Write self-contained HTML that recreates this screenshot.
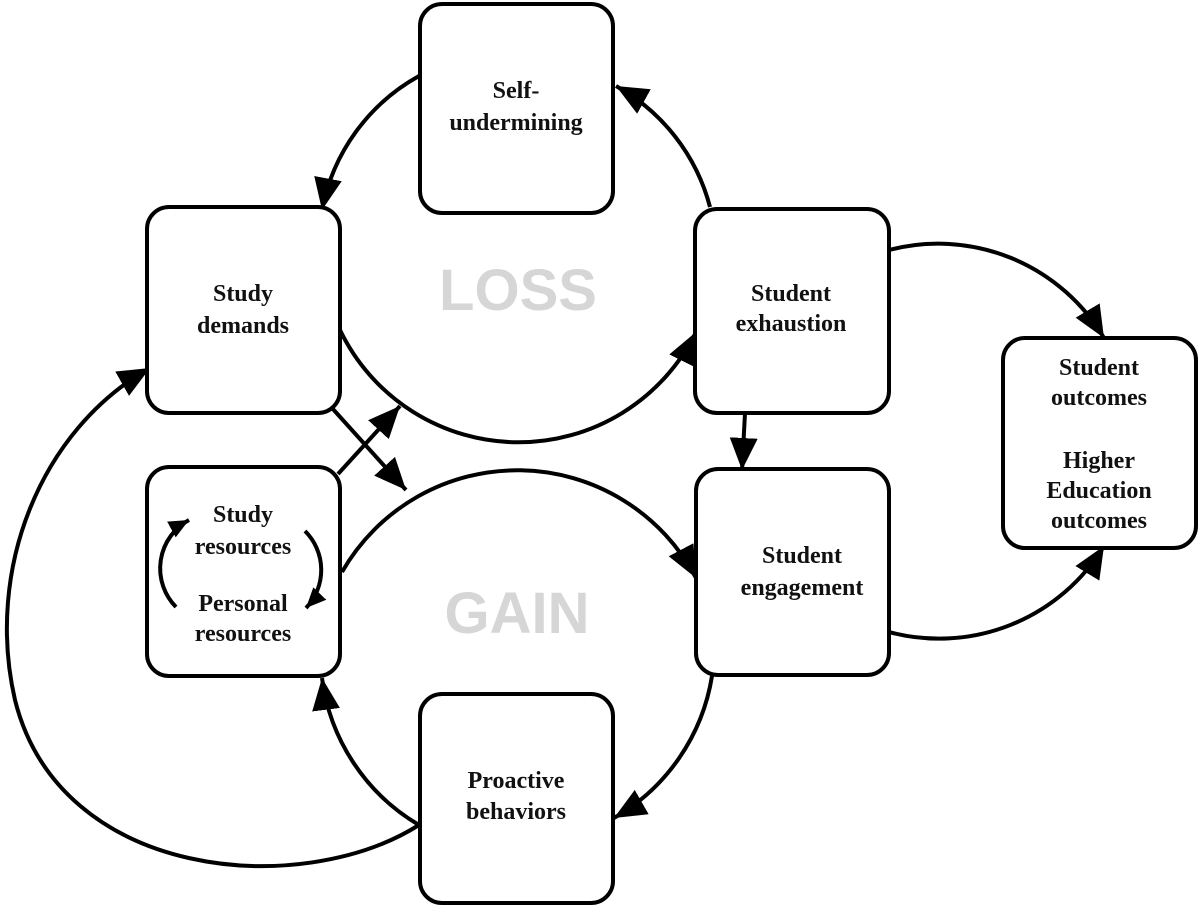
<!DOCTYPE html>
<html><head><style>
html,body{margin:0;padding:0;background:#fff;}
svg{display:block;}
text{font-family:"Liberation Serif",serif;font-weight:bold;font-size:24px;fill:#111;text-anchor:middle;}
.big{font-family:"Liberation Sans",sans-serif;font-size:58px;fill:#d6d6d6;}
</style></head><body>
<svg width="1200" height="907" viewBox="0 0 1200 907">
<defs>
<marker id="a" markerUnits="userSpaceOnUse" markerWidth="36" markerHeight="30" refX="32" refY="14" orient="auto">
<path d="M0,0 L32,14 L0,28 Z" fill="#000"/>
</marker>
<marker id="s" markerUnits="userSpaceOnUse" markerWidth="24" markerHeight="20" refX="20" refY="9" orient="auto">
<path d="M0,0 L20,9 L0,18 Z" fill="#000"/>
</marker>
</defs>
<g fill="none" stroke="#000" stroke-width="4">
<path d="M710,207 A195,195 0 0 0 616,86" marker-end="url(#a)"/>
<path d="M419,76 A195,195 0 0 0 322,210" marker-end="url(#a)"/>
<path d="M340,330 A198,198 0 0 0 696,332" marker-end="url(#a)"/>
<path d="M342,572 A202,202 0 0 1 696,578" marker-end="url(#a)"/>
<path d="M712,676 A200,200 0 0 1 614,818" marker-end="url(#a)"/>
<path d="M419,825 A200,200 0 0 1 322,678" marker-end="url(#a)"/>
<path d="M419,825 C300,900 60,880 15,700 C-15,570 40,430 150,368" marker-end="url(#a)"/>
<path d="M745,413 L742,470" marker-end="url(#a)"/>
<path d="M332,408 L406,490" marker-end="url(#a)"/>
<path d="M338,474 L400,406" marker-end="url(#a)"/>
<path d="M889,250 A193,193 0 0 1 1104,338" marker-end="url(#a)"/>
<path d="M889,632 A193,193 0 0 0 1104,546" marker-end="url(#a)"/>
</g>
<g fill="#fff" stroke="#000" stroke-width="4">
<rect x="420" y="4" width="193" height="209" rx="22"/>
<rect x="147" y="207" width="193" height="206" rx="22"/>
<rect x="695" y="209" width="194" height="204" rx="22"/>
<rect x="1003" y="338" width="193" height="210" rx="22"/>
<rect x="147" y="467" width="193" height="209" rx="22"/>
<rect x="696" y="469" width="193" height="206" rx="22"/>
<rect x="420" y="694" width="193" height="209" rx="22"/>
</g>
<g fill="none" stroke="#000" stroke-width="4">
<path d="M176,607 A55,55 0 0 1 189,520" marker-end="url(#s)"/>
<path d="M305,531 A55,55 0 0 1 306,608" marker-end="url(#s)"/>
</g>
<text class="big" x="518" y="310">LOSS</text>
<text class="big" x="517" y="633">GAIN</text>
<text x="516" y="98">Self-</text>
<text x="516" y="130">undermining</text>
<text x="243" y="301">Study</text>
<text x="243" y="333">demands</text>
<text x="791" y="301">Student</text>
<text x="791" y="331">exhaustion</text>
<text x="1099" y="375">Student</text>
<text x="1099" y="405">outcomes</text>
<text x="1099" y="468">Higher</text>
<text x="1099" y="498">Education</text>
<text x="1099" y="528">outcomes</text>
<text x="243" y="522">Study</text>
<text x="243" y="554">resources</text>
<text x="243" y="611">Personal</text>
<text x="243" y="641">resources</text>
<text x="802" y="563">Student</text>
<text x="802" y="595">engagement</text>
<text x="516" y="788">Proactive</text>
<text x="516" y="819">behaviors</text>
</svg>
</body></html>
